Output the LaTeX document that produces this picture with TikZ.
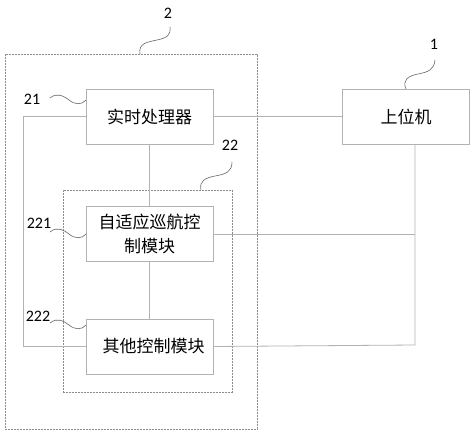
\documentclass[tikz,border=0pt]{standalone}
\usepackage{fontspec}
\newfontfamily\cjk{Noto Sans CJK SC}
\newfontfamily\num{Carlito}
\usetikzlibrary{positioning}

\begin{document}
\begin{tikzpicture}[x=1pt, y=-1pt]
	\tikzset{BoxStyle/.style = {
			shape=rectangle,
			draw=black!30,
			line width=0.8pt,
			minimum width=127pt,
			minimum height=55pt,
			inner sep=0pt,
			align=center,
			font=\cjk\fontsize{17}{24}\selectfont
	}}
	\tikzset{GroupStyle/.style = {
			shape=rectangle,
			draw=black!45,
			line width=0.7pt,
			dash pattern=on 1.8pt off 1.2pt,
			inner sep=0pt
	}}
	\tikzset{LabelStyle/.style = {
			font=\num\fontsize{16}{18}\selectfont,
			inner sep=1pt
	}}
	\tikzset{WireStyle/.style = {
			draw=black!30,
			line width=0.8pt
	}}
	\useasboundingbox (0,0) rectangle (474,434);

	% dashed groups
	\node[GroupStyle, minimum width=252pt, minimum height=375pt] (g2) at (131,241.5) {};
	\node[GroupStyle, minimum width=169pt, minimum height=202pt] (g22) at (147.5,291) {};

	% blocks
	\node[BoxStyle] (rtp) at (149.5,116.5) {实时处理器};
	\node[BoxStyle] (acc) at (149.5,234) {自适应巡航控\\制模块};
	\node[BoxStyle] (other) at (149.5,346.5) {\hspace*{8pt}其他控制模块};
	\node[BoxStyle] (pc) at (406,116.5) {上位机};

	% reference numbers
	\node[LabelStyle] (n2) at (168,13) {2};
	\node[LabelStyle] (n1) at (434,44) {1};
	\node[LabelStyle] (n21) at (32,99) {21};
	\node[LabelStyle] (n22) at (230,145) {22};
	\node[LabelStyle] (n221) at (39,223) {221};
	\node[LabelStyle] (n222) at (38,316) {222};

	% wires
	\coordinate (tap) at (415,345);
	\path [WireStyle] (rtp) edge (pc);
	\path [WireStyle] (rtp) edge (acc);
	\path [WireStyle] (acc) edge (other);
	\draw [WireStyle] (rtp.west) -- ++(-62,0) |- (other.west);
	\draw [WireStyle] (acc.east) -- (acc.east -| tap);
	\draw [WireStyle] (other.east) -- (tap) -- (tap |- pc.south);

	% leader curves
	\draw [black!60, line width=0.6pt] (140,54) .. controls (138,43) and (148,42) .. (157,40)
		.. controls (167,38) and (171,35) .. (170,27);
	\draw [black!60, line width=0.6pt] (406,89) .. controls (402,80) and (408,76) .. (418,74)
		.. controls (428,72) and (434,70) .. (435,60);
	\draw [black!60, line width=0.6pt] (201,190) .. controls (199,181) and (205,178) .. (215,176)
		.. controls (226,174) and (232,172) .. (232,162);
	\draw [black!60, line width=0.6pt] (50,98) .. controls (57,92) and (64,96) .. (69,100)
		.. controls (75,105) and (82,105) .. (86,100);
	\draw [black!60, line width=0.6pt] (50,232) .. controls (57,226) and (64,230) .. (69,234)
		.. controls (75,239) and (82,239) .. (86,234);
	\draw [black!60, line width=0.6pt] (50,323) .. controls (57,317) and (64,321) .. (69,325)
		.. controls (75,330) and (82,330) .. (86,325);
\end{tikzpicture}
\end{document}
